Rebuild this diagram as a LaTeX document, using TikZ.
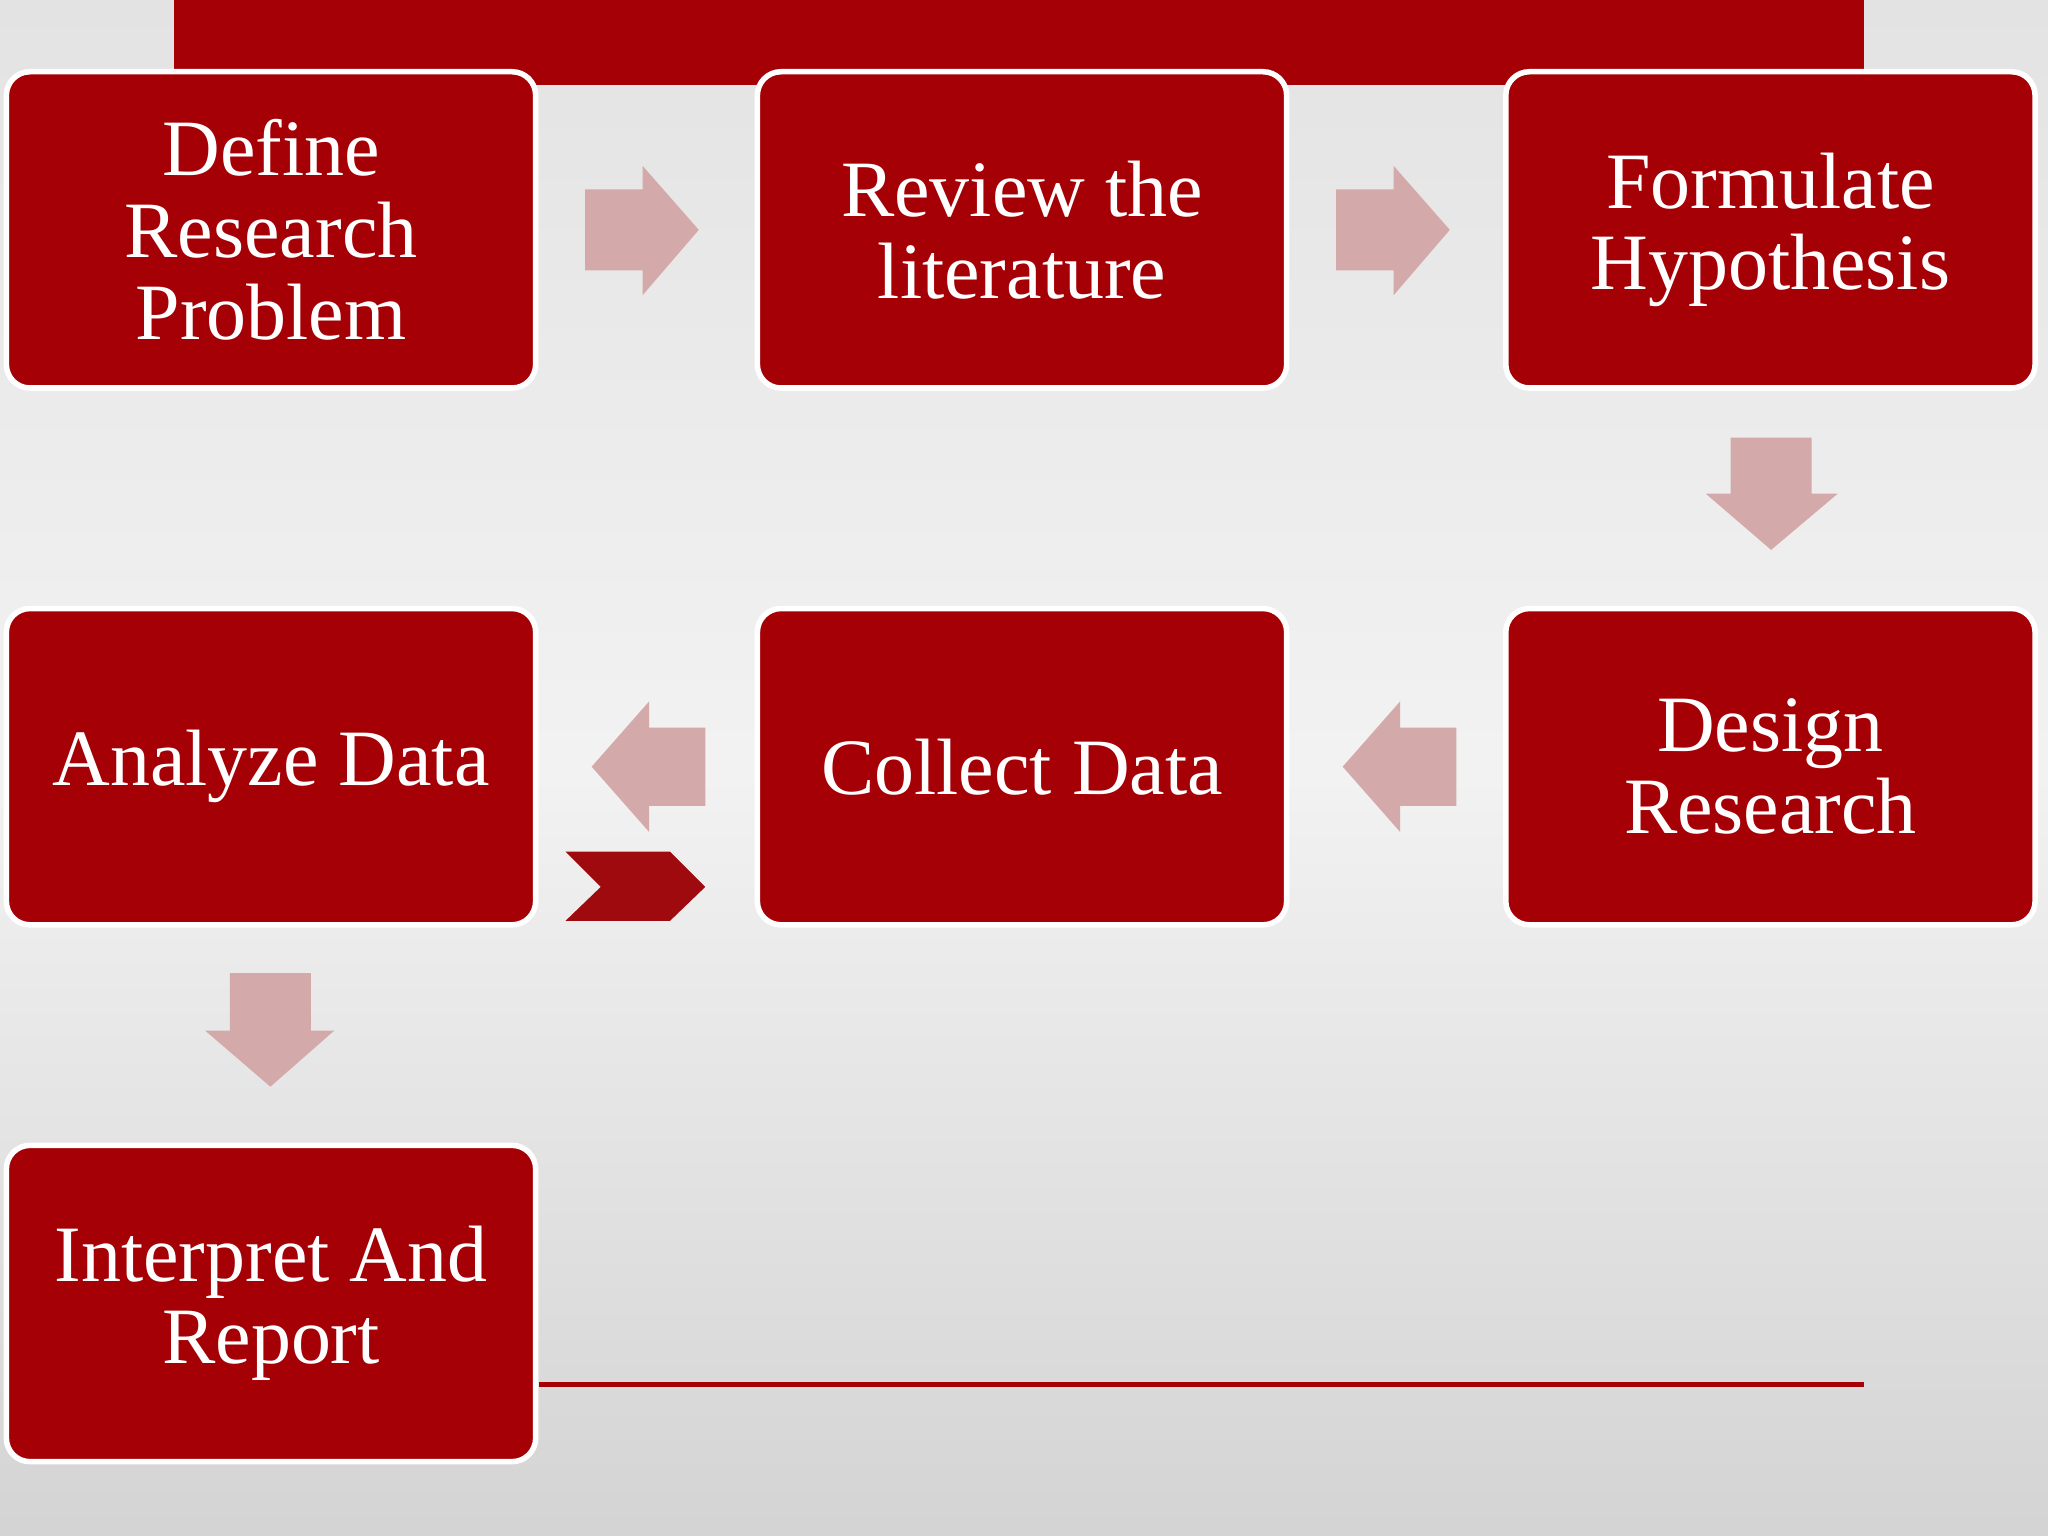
\documentclass[tikz,border=0pt]{standalone}
\usepackage{fontspec}
\setmainfont{Liberation Serif}
\definecolor{boxred}{HTML}{A50005}
\definecolor{pinkarrow}{HTML}{D4A9AA}
\definecolor{chev}{HTML}{9E0A0E}
\begin{document}
\begin{tikzpicture}[x=0.01cm,y=-0.01cm,
  stepbox/.style={draw=white,line width=1.2pt,fill=boxred,rounded corners=0.18cm,minimum width=4.05cm,minimum height=2.42cm,text=white,align=center,font=\fontsize{17.4}{17.8}\selectfont,inner sep=0pt},
  parrow/.style={fill=pinkarrow,draw=none}]
\shade[top color=black!11,bottom color=black!17,middle color=black!5] (0,0) rectangle (1568,1176);
\useasboundingbox (0,0) rectangle (1568,1176);
\fill[boxred] (133,0) rectangle (1427,65);
\draw[boxred,line width=1.2pt] (413,1060) -- (1427,1060);
\node[stepbox] (a) at (207.5,176) {Define\\Research\\Problem};
\node[stepbox] (b) at (782.5,176) {Review the\\literature};
\node[stepbox] (c) at (1355.5,176) {Formulate\\Hypothesis};
\node[stepbox] (d) at (1355.5,587) {Design\\Research};
\node[stepbox] (e) at (782.5,587) {Collect Data};
\node[stepbox] (f) at (207.5,587) {Analyze Data};
\node[stepbox] (g) at (207.5,998) {Interpret And\\Report};
% right arrows
\foreach \x in {448,1023}
  \fill[parrow] (\x,145) -- (\x+44,145) -- (\x+44,127) -- (\x+87,176) -- (\x+44,226) -- (\x+44,207) -- (\x,207) -- cycle;
% left arrows
\foreach \x in {453,1028}
  \fill[parrow] (\x+87,557) -- (\x+44,557) -- (\x+44,537) -- (\x,587) -- (\x+44,637) -- (\x+44,617) -- (\x+87,617) -- cycle;
% down arrows
\fill[parrow] (1325,335) -- (1387,335) -- (1387,378) -- (1407,378) -- (1356,421) -- (1306,378) -- (1325,378) -- cycle;
\fill[parrow] (176,745) -- (238,745) -- (238,789) -- (256,789) -- (207,832) -- (157,789) -- (176,789) -- cycle;
% chevron
\fill[chev] (433,652) -- (513,652) -- (540,679) -- (513,705) -- (433,705) -- (460,679) -- cycle;
\end{tikzpicture}
\end{document}
